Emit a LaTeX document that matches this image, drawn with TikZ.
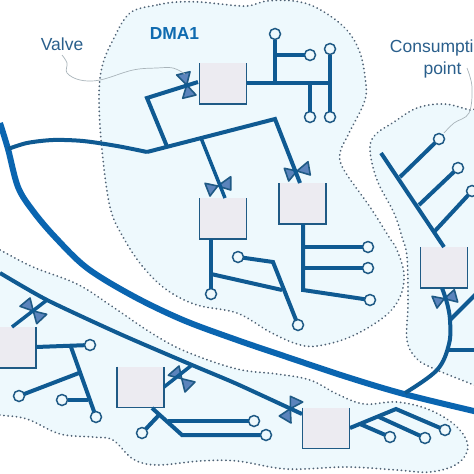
\documentclass[tikz,border=0pt]{standalone}
\usepackage{fontspec}
\setmainfont{Liberation Sans}
\definecolor{mainpipe}{HTML}{0A65B0}
\definecolor{pipe}{HTML}{0F5A92}
\definecolor{edge}{HTML}{1F5A85}
\definecolor{zone}{HTML}{EEF9FD}
\definecolor{boxfill}{HTML}{ECEBF1}
\definecolor{valvefill}{HTML}{5B84BC}
\definecolor{labeltext}{HTML}{2A5F8C}
\definecolor{dmatext}{HTML}{0F6BB0}
\definecolor{dotline}{HTML}{4F6275}
\definecolor{leader}{HTML}{A9B4BA}
\tikzset{
  zonearea/.style={fill=zone,draw=dotline,line width=1.9pt,line cap=round,dash pattern=on 0.1pt off 4.1pt},
  mainline/.style={draw=mainpipe,line width=6pt},
  pipeline/.style={draw=pipe,line width=4pt,line join=miter},
  thinpipe/.style={draw=pipe,line width=3.5pt,line join=miter},
  leaderline/.style={draw=leader,line width=0.7pt},
  tank/.style={rectangle,fill=boxfill,minimum width=47pt,minimum height=41pt,inner sep=0pt,outer sep=0pt},
  tankline/.style={draw=edge,line width=1.6pt},
  point/.style={circle,fill=zone,draw=edge,line width=1.5pt,minimum size=11pt,inner sep=0pt,outer sep=0pt},
  valvetri/.style={fill=valvefill,draw=edge,line width=1.6pt,line join=round},
  lab/.style={anchor=base,text=labeltext,font=\fontsize{17.5}{20}\selectfont,inner sep=0pt},
}
\begin{document}
\begin{tikzpicture}[x=1pt,y=-1pt]
\useasboundingbox (0,0) rectangle (474,474);
\clip (0,0) rectangle (474,474);
\fill[white] (0,0) rectangle (474,474);
% zones
\draw[zonearea] plot[smooth cycle,tension=0.6] coordinates {(177,2)(157,5)(130,13)(113,40)(102,67)(99,100)(102,150)(110,207)(123,237)(143,267)(167,290)(197,305)(237,313)(270,332)(297,344)(317,346)(350,337)(384,317)(400,297)(404,274)(397,250)(389,237)(370,207)(344,170)(340,153)(349,133)(365,100)(365,77)(359,50)(344,27)(317,8)(294,1)(267,1)(247,6)(220,4)(200,2)};
\draw[zonearea] plot[smooth cycle,tension=0.6] coordinates {(510,120)(470,110)(444,104)(417,108)(394,122)(375,135)(370,150)(377,180)(394,213)(402,237)(407,257)(408,304)(407,340)(417,359)(437,370)(474,385)(510,400)};
\draw[zonearea] plot[smooth cycle,tension=0.6] coordinates {(-30,235)(0,250)(33,267)(77,284)(110,305)(153,334)(187,352)(237,369)(277,374)(310,380)(337,394)(364,404)(397,402)(430,410)(457,427)(468,447)(457,464)(430,472)(397,470)(347,467)(287,469)(237,461)(200,461)(157,465)(133,459)(113,440)(93,437)(60,434)(27,419)(0,415)(-30,410)};
% labels
\node[lab] (valvelabel) at (62,50) {Valve};
\node[lab,font=\bfseries\fontsize{17.4}{20}\selectfont,text=dmatext] (dmalabel) at (174.5,39) {DMA1};
\node[lab] (cons1) at (441.5,52) {Consumption};
\node[lab] (cons2) at (442.5,74) {point};
% valves
\coordinate (v1) at (186.7,85);
\coordinate (v2) at (217.7,186);
\coordinate (v3) at (297,171);
\coordinate (v4) at (444.3,298.7);
\coordinate (v5) at (33.3,311);
\coordinate (v6) at (181.7,378.7);
\coordinate (v7) at (290.3,408.7);
\draw[valvetri] (v1)--(176.7,75)--(190,71.7)--cycle;
\draw[valvetri] (v1)--(182.7,98.3)--(196,95)--cycle;
\draw[valvetri] (v2)--(205,183.3)--(210,196)--cycle;
\draw[valvetri] (v2)--(230.7,176.7)--(230.7,190)--cycle;
\draw[valvetri] (v3)--(284.3,168.3)--(288.7,181)--cycle;
\draw[valvetri] (v3)--(308,161.7)--(310.3,175)--cycle;
\draw[valvetri] (v4)--(432,296.3)--(437,308)--cycle;
\draw[valvetri] (v4)--(454.3,289.7)--(457.7,302)--cycle;
\draw[valvetri] (v5)--(20,306.3)--(30,298)--cycle;
\draw[valvetri] (v5)--(46.7,314.3)--(36.7,323.7)--cycle;
\draw[valvetri] (v6)--(168.3,375.3)--(179,366)--cycle;
\draw[valvetri] (v6)--(195,382)--(185,392)--cycle;
\draw[valvetri] (v7)--(290.3,396.3)--(302.7,402)--cycle;
\draw[valvetri] (v7)--(279.3,416)--(291,423)--cycle;
% leaders
\coordinate (valveend) at (185,74);
\coordinate (consend) at (444,133);
\draw[leaderline] plot[smooth,tension=0.6] coordinates {(62,55)(67,63)(67,73)(80,80)(100,80)(133,70)(157,68)(173,68)(valveend)};
\draw[leaderline] plot[smooth,tension=0.6] coordinates {(467,68)(472,87)(469,113)(454,123)(consend)};
% tanks
\node[tank] (t1) at (223,83.5) {};
\node[tank] (t2) at (223,218.5) {};
\node[tank] (t3) at (302.5,203.5) {};
\node[tank] (t4) at (444,267.5) {};
\node[tank] (t5) at (12.5,347.5) {};
\node[tank] (t6) at (140.5,387) {};
\node[tank] (t7) at (326,428) {};
\foreach \t in {t1,t2,t3,t4,t5,t6,t7}
  \draw[tankline] (\t.north west)--(\t.south west)--(\t.south east)--(\t.north east);
% consumption points
\node[point] (p1) at (275,34) {};
\node[point] (p2) at (310,55) {};
\node[point] (p3) at (330,49) {};
\node[point] (p4) at (310,117) {};
\node[point] (p5) at (330,117) {};
\node[point] (p6) at (368,247) {};
\node[point] (p7) at (368,268) {};
\node[point] (p8) at (370,300) {};
\node[point] (p9) at (211,294) {};
\node[point] (p10) at (238,257) {};
\node[point] (p11) at (298,325) {};
\node[point] (p12) at (439,139) {};
\node[point] (p13) at (458,168) {};
\node[point] (p14) at (472,191) {};
\node[point] (p15) at (90,345) {};
\node[point] (p16) at (96,417) {};
\node[point] (p17) at (19,396) {};
\node[point] (p18) at (62,400) {};
\node[point] (p19) at (142,433) {};
\node[point] (p20) at (254,421) {};
\node[point] (p21) at (266,435) {};
\node[point] (p22) at (390,437) {};
\node[point] (p23) at (425,438) {};
\node[point] (p24) at (445,430) {};
% trunk mains
\coordinate (ma) at (0,123);
\coordinate (mb) at (8,149);
\coordinate (mc) at (478,412);
\draw[mainline] plot[smooth,tension=0.55] coordinates {(ma)(mb)(18,187)(33,211)(55,237)(87,268)(133,296)(183,320)(237,340)(287,357)(347,377)(404,394)(mc)};
% DMA1 network
\coordinate (j1) at (147,152);
\coordinate (j2) at (275,119);
\coordinate (j3) at (167,146.5);
\coordinate (j4) at (147,98);
\coordinate (j5) at (198,82);
\coordinate (j6) at (201,138);
\coordinate (j7) at (225,198);
\coordinate (j8) at (300,183);
\draw[pipeline] plot[smooth,tension=0.5] coordinates {(mb)(27,143)(53,140)(83,141)(117,146)(j1)};
\draw[pipeline] (j1)--(j2)--(j8);
\draw[pipeline] (j3)--(j4)--(j5);
\draw[thinpipe] (j6)--(j7);
% tank 1
\coordinate (a1) at (247,83);
\coordinate (a2) at (275,83);
\coordinate (a3) at (310,83);
\coordinate (a4) at (330,83);
\coordinate (a5) at (275,55);
\draw[pipeline] (a1)--(a4);
\draw[pipeline] (a2)--(p1);
\draw[pipeline] (a5)--(p2);
\draw[pipeline] (p3)--(p5);
\draw[pipeline] (a3)--(p4);
% tank 3
\coordinate (b1) at (303,224);
\coordinate (b2) at (303,290);
\coordinate (b3) at (303,247);
\coordinate (b4) at (303,268);
\draw[pipeline] (b1)--(b2)--(p8);
\draw[pipeline] (b3)--(p6);
\draw[pipeline] (b4)--(p7);
% tank 2
\coordinate (c1) at (211,239);
\coordinate (c2) at (211,274);
\coordinate (c3) at (282,290);
\coordinate (c4) at (273,262);
\draw[pipeline] (c1)--(p9);
\draw[pipeline] (c2)--(c3);
\draw[pipeline] (p10)--(c4)--(p11);
% right zone
\coordinate (d1) at (381,153);
\coordinate (d2) at (444,247);
\coordinate (d3) at (400,177);
\coordinate (d4) at (419,205);
\coordinate (d5) at (434,232);
\draw[pipeline] (d1)--(d2);
\draw[pipeline] (d3)--(p12);
\draw[pipeline] (d4)--(p13);
\draw[pipeline] (d5)--(p14);
\coordinate (e1) at (442,288);
\coordinate (e2) at (450,320);
\coordinate (e3) at (405,393);
\coordinate (e4) at (449,350);
\coordinate (e5) at (476,350);
\coordinate (e6) at (476,294);
\draw[pipeline] plot[smooth,tension=0.6] coordinates {(e1)(447,303)(e2)(449,344)(437,370)(e3)};
\draw[pipeline] (e2)--(e6);
\draw[pipeline] (e4)--(e5);
% bottom main
\coordinate (f0) at (0,273);
\coordinate (f1) at (47,300);
\coordinate (f2) at (192,365);
\coordinate (f3) at (237,384);
\coordinate (f4) at (302,414);
\draw[pipeline] plot[smooth,tension=0.4] coordinates {(f0)(f1)(120,334)(f2)(f3)(f4)};
\coordinate (g1) at (12,327);
\coordinate (g2) at (164,387);
\draw[thinpipe] (f1)--(g1);
\draw[thinpipe] (f2)--(g2);
% tank 5
\coordinate (h1) at (36,347);
\coordinate (h2) at (71,347);
\coordinate (h3) at (79,373);
\coordinate (h4) at (88,400);
\draw[pipeline] (h1)--(p15);
\draw[pipeline] (h2)--(p16);
\draw[pipeline] (h3)--(p17);
\draw[pipeline] (h4)--(p18);
% tank 6
\coordinate (k1) at (152,408);
\coordinate (k2) at (182,435);
\coordinate (k3) at (159,415);
\coordinate (k4) at (168,421);
\draw[pipeline] (k1)--(k2)--(p21);
\draw[pipeline] (k3)--(p19);
\draw[pipeline] (k4)--(p20);
% tank 7
\coordinate (l1) at (350,428);
\coordinate (l2) at (396,409);
\coordinate (l3) at (360,424);
\coordinate (l4) at (379,417);
\draw[pipeline] (l1)--(l2)--(p24);
\draw[pipeline] (l3)--(p22);
\draw[pipeline] (l4)--(p23);
\end{tikzpicture}
\end{document}
